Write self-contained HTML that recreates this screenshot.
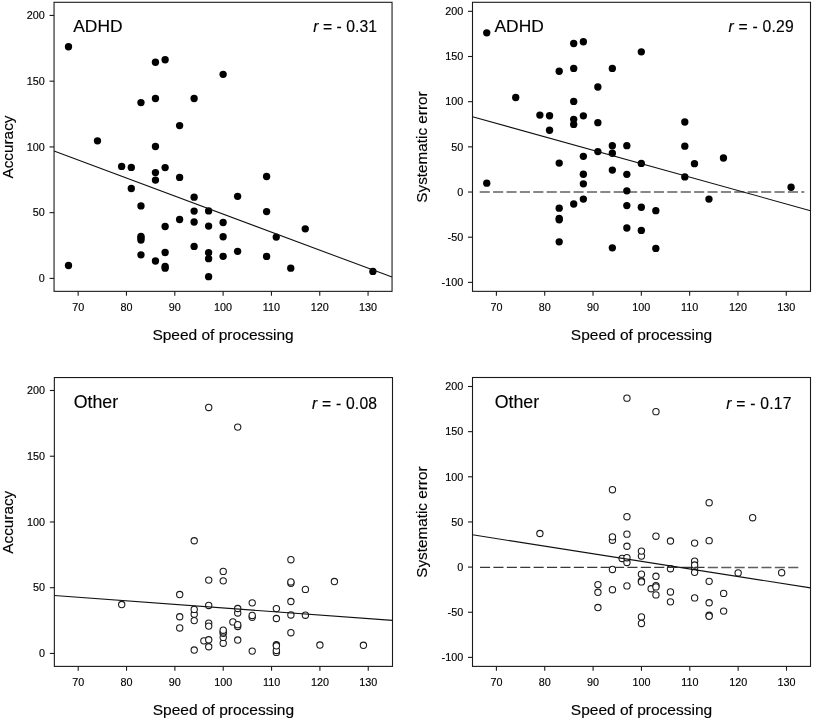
<!DOCTYPE html>
<html lang="en">
<head>
<meta charset="utf-8">
<title>Speed of processing scatter plots</title>
<style>
html,body{margin:0;padding:0;background:#fff;}
svg{display:block;}
text{font-family:"Liberation Sans", Arial, Helvetica, sans-serif;fill:#000;stroke:#000;stroke-width:0.15px;}
.tk{font-size:10.8px;}
.ax{font-size:15.5px;}
.ay{font-size:15.3px;}
.ti{font-size:17.4px;}
.to{font-size:17.75px;}
.rt{font-size:15.7px;}
</style>
</head>
<body>
<svg width="813" height="720" viewBox="0 0 813 720">
<rect x="0" y="0" width="813" height="720" fill="#fff"/>
<rect x="54.05" y="2.30" width="338.00" height="289.05" fill="none" stroke="#1a1a1a" stroke-width="1.1"/>
<line x1="78.15" y1="291.35" x2="78.15" y2="295.65" stroke="#1a1a1a" stroke-width="1.1"/>
<text x="78.15" y="310.65" text-anchor="middle" class="tk">70</text>
<line x1="126.47" y1="291.35" x2="126.47" y2="295.65" stroke="#1a1a1a" stroke-width="1.1"/>
<text x="126.47" y="310.65" text-anchor="middle" class="tk">80</text>
<line x1="174.79" y1="291.35" x2="174.79" y2="295.65" stroke="#1a1a1a" stroke-width="1.1"/>
<text x="174.79" y="310.65" text-anchor="middle" class="tk">90</text>
<line x1="223.11" y1="291.35" x2="223.11" y2="295.65" stroke="#1a1a1a" stroke-width="1.1"/>
<text x="223.11" y="310.65" text-anchor="middle" class="tk">100</text>
<line x1="271.43" y1="291.35" x2="271.43" y2="295.65" stroke="#1a1a1a" stroke-width="1.1"/>
<text x="271.43" y="310.65" text-anchor="middle" class="tk">110</text>
<line x1="319.75" y1="291.35" x2="319.75" y2="295.65" stroke="#1a1a1a" stroke-width="1.1"/>
<text x="319.75" y="310.65" text-anchor="middle" class="tk">120</text>
<line x1="368.07" y1="291.35" x2="368.07" y2="295.65" stroke="#1a1a1a" stroke-width="1.1"/>
<text x="368.07" y="310.65" text-anchor="middle" class="tk">130</text>
<line x1="49.55" y1="278.40" x2="54.05" y2="278.40" stroke="#1a1a1a" stroke-width="1.1"/>
<text x="44.75" y="282.10" text-anchor="end" class="tk">0</text>
<line x1="49.55" y1="212.66" x2="54.05" y2="212.66" stroke="#1a1a1a" stroke-width="1.1"/>
<text x="44.75" y="216.36" text-anchor="end" class="tk">50</text>
<line x1="49.55" y1="146.92" x2="54.05" y2="146.92" stroke="#1a1a1a" stroke-width="1.1"/>
<text x="44.75" y="150.62" text-anchor="end" class="tk">100</text>
<line x1="49.55" y1="81.18" x2="54.05" y2="81.18" stroke="#1a1a1a" stroke-width="1.1"/>
<text x="44.75" y="84.88" text-anchor="end" class="tk">150</text>
<line x1="49.55" y1="15.44" x2="54.05" y2="15.44" stroke="#1a1a1a" stroke-width="1.1"/>
<text x="44.75" y="19.14" text-anchor="end" class="tk">200</text>
<text x="223.05" y="340.05" text-anchor="middle" class="ax">Speed of processing</text>
<text transform="translate(12.90,147.03) rotate(-90)" text-anchor="middle" class="ay">Accuracy</text>
<text x="73.25" y="32.10" class="ti">ADHD</text>
<text x="313.30" y="32.10" class="rt" letter-spacing="0.05"><tspan font-style="italic">r</tspan> = - 0.31</text>
<circle cx="68.49" cy="46.73" r="3.67" fill="#000"/>
<circle cx="68.49" cy="265.51" r="3.67" fill="#000"/>
<circle cx="97.48" cy="140.87" r="3.67" fill="#000"/>
<circle cx="121.64" cy="166.38" r="3.67" fill="#000"/>
<circle cx="131.30" cy="167.43" r="3.67" fill="#000"/>
<circle cx="131.30" cy="188.47" r="3.67" fill="#000"/>
<circle cx="140.97" cy="102.61" r="3.67" fill="#000"/>
<circle cx="140.97" cy="236.33" r="3.67" fill="#000"/>
<circle cx="140.97" cy="254.87" r="3.67" fill="#000"/>
<circle cx="140.97" cy="240.01" r="3.67" fill="#000"/>
<circle cx="140.97" cy="237.90" r="3.67" fill="#000"/>
<circle cx="140.97" cy="205.95" r="3.67" fill="#000"/>
<circle cx="155.46" cy="62.25" r="3.67" fill="#000"/>
<circle cx="155.46" cy="98.54" r="3.67" fill="#000"/>
<circle cx="155.46" cy="146.53" r="3.67" fill="#000"/>
<circle cx="155.46" cy="172.56" r="3.67" fill="#000"/>
<circle cx="155.46" cy="180.05" r="3.67" fill="#000"/>
<circle cx="155.46" cy="261.04" r="3.67" fill="#000"/>
<circle cx="165.13" cy="59.75" r="3.67" fill="#000"/>
<circle cx="165.13" cy="167.56" r="3.67" fill="#000"/>
<circle cx="165.13" cy="226.47" r="3.67" fill="#000"/>
<circle cx="165.13" cy="252.50" r="3.67" fill="#000"/>
<circle cx="165.13" cy="266.44" r="3.67" fill="#000"/>
<circle cx="165.13" cy="268.14" r="3.67" fill="#000"/>
<circle cx="179.62" cy="125.62" r="3.67" fill="#000"/>
<circle cx="179.62" cy="177.42" r="3.67" fill="#000"/>
<circle cx="179.62" cy="219.50" r="3.67" fill="#000"/>
<circle cx="194.12" cy="98.54" r="3.67" fill="#000"/>
<circle cx="194.12" cy="211.08" r="3.67" fill="#000"/>
<circle cx="194.12" cy="222.00" r="3.67" fill="#000"/>
<circle cx="194.12" cy="246.45" r="3.67" fill="#000"/>
<circle cx="194.12" cy="197.15" r="3.67" fill="#000"/>
<circle cx="208.61" cy="210.95" r="3.67" fill="#000"/>
<circle cx="208.61" cy="252.63" r="3.67" fill="#000"/>
<circle cx="208.61" cy="276.69" r="3.67" fill="#000"/>
<circle cx="208.61" cy="258.68" r="3.67" fill="#000"/>
<circle cx="208.61" cy="226.07" r="3.67" fill="#000"/>
<circle cx="223.11" cy="74.34" r="3.67" fill="#000"/>
<circle cx="223.11" cy="236.72" r="3.67" fill="#000"/>
<circle cx="223.11" cy="256.31" r="3.67" fill="#000"/>
<circle cx="223.11" cy="222.52" r="3.67" fill="#000"/>
<circle cx="237.61" cy="251.32" r="3.67" fill="#000"/>
<circle cx="237.61" cy="196.36" r="3.67" fill="#000"/>
<circle cx="266.60" cy="176.50" r="3.67" fill="#000"/>
<circle cx="266.60" cy="211.61" r="3.67" fill="#000"/>
<circle cx="266.60" cy="256.44" r="3.67" fill="#000"/>
<circle cx="276.26" cy="237.12" r="3.67" fill="#000"/>
<circle cx="290.76" cy="268.14" r="3.67" fill="#000"/>
<circle cx="305.25" cy="228.83" r="3.67" fill="#000"/>
<circle cx="372.90" cy="271.43" r="3.67" fill="#000"/>
<line x1="54.05" y1="151.10" x2="392.05" y2="277.10" stroke="#111" stroke-width="1.08"/>
<rect x="472.50" y="2.30" width="338.00" height="289.05" fill="none" stroke="#1a1a1a" stroke-width="1.1"/>
<line x1="496.40" y1="291.35" x2="496.40" y2="295.65" stroke="#1a1a1a" stroke-width="1.1"/>
<text x="496.40" y="310.65" text-anchor="middle" class="tk">70</text>
<line x1="544.71" y1="291.35" x2="544.71" y2="295.65" stroke="#1a1a1a" stroke-width="1.1"/>
<text x="544.71" y="310.65" text-anchor="middle" class="tk">80</text>
<line x1="593.02" y1="291.35" x2="593.02" y2="295.65" stroke="#1a1a1a" stroke-width="1.1"/>
<text x="593.02" y="310.65" text-anchor="middle" class="tk">90</text>
<line x1="641.33" y1="291.35" x2="641.33" y2="295.65" stroke="#1a1a1a" stroke-width="1.1"/>
<text x="641.33" y="310.65" text-anchor="middle" class="tk">100</text>
<line x1="689.64" y1="291.35" x2="689.64" y2="295.65" stroke="#1a1a1a" stroke-width="1.1"/>
<text x="689.64" y="310.65" text-anchor="middle" class="tk">110</text>
<line x1="737.95" y1="291.35" x2="737.95" y2="295.65" stroke="#1a1a1a" stroke-width="1.1"/>
<text x="737.95" y="310.65" text-anchor="middle" class="tk">120</text>
<line x1="786.26" y1="291.35" x2="786.26" y2="295.65" stroke="#1a1a1a" stroke-width="1.1"/>
<text x="786.26" y="310.65" text-anchor="middle" class="tk">130</text>
<line x1="468.00" y1="282.38" x2="472.50" y2="282.38" stroke="#1a1a1a" stroke-width="1.1"/>
<text x="463.20" y="286.08" text-anchor="end" class="tk">-100</text>
<line x1="468.00" y1="237.20" x2="472.50" y2="237.20" stroke="#1a1a1a" stroke-width="1.1"/>
<text x="463.20" y="240.90" text-anchor="end" class="tk">-50</text>
<line x1="468.00" y1="192.03" x2="472.50" y2="192.03" stroke="#1a1a1a" stroke-width="1.1"/>
<text x="463.20" y="195.73" text-anchor="end" class="tk">0</text>
<line x1="468.00" y1="146.86" x2="472.50" y2="146.86" stroke="#1a1a1a" stroke-width="1.1"/>
<text x="463.20" y="150.56" text-anchor="end" class="tk">50</text>
<line x1="468.00" y1="101.68" x2="472.50" y2="101.68" stroke="#1a1a1a" stroke-width="1.1"/>
<text x="463.20" y="105.38" text-anchor="end" class="tk">100</text>
<line x1="468.00" y1="56.50" x2="472.50" y2="56.50" stroke="#1a1a1a" stroke-width="1.1"/>
<text x="463.20" y="60.20" text-anchor="end" class="tk">150</text>
<line x1="468.00" y1="11.33" x2="472.50" y2="11.33" stroke="#1a1a1a" stroke-width="1.1"/>
<text x="463.20" y="15.03" text-anchor="end" class="tk">200</text>
<text x="641.50" y="340.05" text-anchor="middle" class="ax">Speed of processing</text>
<text transform="translate(427.00,147.03) rotate(-90)" text-anchor="middle" class="ay">Systematic error</text>
<text x="494.50" y="32.10" class="ti">ADHD</text>
<text x="728.60" y="32.10" class="rt" letter-spacing="0.2"><tspan font-style="italic">r</tspan> = - 0.29</text>
<line x1="479.70" y1="192.00" x2="804.30" y2="192.00" stroke="#878787" stroke-width="1.9" stroke-dasharray="10.1 3.3" stroke-dashoffset="0.00"/>
<circle cx="486.74" cy="32.83" r="3.67" fill="#000"/>
<circle cx="486.74" cy="183.18" r="3.67" fill="#000"/>
<circle cx="515.72" cy="97.52" r="3.67" fill="#000"/>
<circle cx="539.88" cy="115.05" r="3.67" fill="#000"/>
<circle cx="549.54" cy="115.77" r="3.67" fill="#000"/>
<circle cx="549.54" cy="130.23" r="3.67" fill="#000"/>
<circle cx="559.20" cy="71.23" r="3.67" fill="#000"/>
<circle cx="559.20" cy="163.12" r="3.67" fill="#000"/>
<circle cx="559.20" cy="208.20" r="3.67" fill="#000"/>
<circle cx="559.20" cy="218.41" r="3.67" fill="#000"/>
<circle cx="559.20" cy="219.86" r="3.67" fill="#000"/>
<circle cx="559.20" cy="241.81" r="3.67" fill="#000"/>
<circle cx="573.70" cy="43.49" r="3.67" fill="#000"/>
<circle cx="573.70" cy="68.43" r="3.67" fill="#000"/>
<circle cx="573.70" cy="101.41" r="3.67" fill="#000"/>
<circle cx="573.70" cy="119.30" r="3.67" fill="#000"/>
<circle cx="573.70" cy="124.45" r="3.67" fill="#000"/>
<circle cx="573.70" cy="203.96" r="3.67" fill="#000"/>
<circle cx="583.36" cy="41.78" r="3.67" fill="#000"/>
<circle cx="583.36" cy="115.86" r="3.67" fill="#000"/>
<circle cx="583.36" cy="156.34" r="3.67" fill="#000"/>
<circle cx="583.36" cy="174.23" r="3.67" fill="#000"/>
<circle cx="583.36" cy="183.81" r="3.67" fill="#000"/>
<circle cx="583.36" cy="199.08" r="3.67" fill="#000"/>
<circle cx="597.85" cy="87.04" r="3.67" fill="#000"/>
<circle cx="597.85" cy="122.64" r="3.67" fill="#000"/>
<circle cx="597.85" cy="151.55" r="3.67" fill="#000"/>
<circle cx="612.34" cy="68.43" r="3.67" fill="#000"/>
<circle cx="612.34" cy="145.77" r="3.67" fill="#000"/>
<circle cx="612.34" cy="153.27" r="3.67" fill="#000"/>
<circle cx="612.34" cy="170.07" r="3.67" fill="#000"/>
<circle cx="612.34" cy="247.87" r="3.67" fill="#000"/>
<circle cx="626.84" cy="145.68" r="3.67" fill="#000"/>
<circle cx="626.84" cy="174.32" r="3.67" fill="#000"/>
<circle cx="626.84" cy="190.86" r="3.67" fill="#000"/>
<circle cx="626.84" cy="205.58" r="3.67" fill="#000"/>
<circle cx="626.84" cy="227.99" r="3.67" fill="#000"/>
<circle cx="641.33" cy="51.81" r="3.67" fill="#000"/>
<circle cx="641.33" cy="163.39" r="3.67" fill="#000"/>
<circle cx="641.33" cy="207.21" r="3.67" fill="#000"/>
<circle cx="641.33" cy="230.43" r="3.67" fill="#000"/>
<circle cx="655.82" cy="210.64" r="3.67" fill="#000"/>
<circle cx="655.82" cy="248.41" r="3.67" fill="#000"/>
<circle cx="684.81" cy="122.01" r="3.67" fill="#000"/>
<circle cx="684.81" cy="146.13" r="3.67" fill="#000"/>
<circle cx="684.81" cy="176.94" r="3.67" fill="#000"/>
<circle cx="694.47" cy="163.66" r="3.67" fill="#000"/>
<circle cx="708.96" cy="199.08" r="3.67" fill="#000"/>
<circle cx="723.46" cy="157.97" r="3.67" fill="#000"/>
<circle cx="791.09" cy="187.24" r="3.67" fill="#000"/>
<line x1="472.50" y1="116.70" x2="810.50" y2="210.70" stroke="#111" stroke-width="1.08"/>
<rect x="54.35" y="377.55" width="338.15" height="288.85" fill="none" stroke="#1a1a1a" stroke-width="1.1"/>
<line x1="78.20" y1="666.40" x2="78.20" y2="670.70" stroke="#1a1a1a" stroke-width="1.1"/>
<text x="78.20" y="685.70" text-anchor="middle" class="tk">70</text>
<line x1="126.54" y1="666.40" x2="126.54" y2="670.70" stroke="#1a1a1a" stroke-width="1.1"/>
<text x="126.54" y="685.70" text-anchor="middle" class="tk">80</text>
<line x1="174.88" y1="666.40" x2="174.88" y2="670.70" stroke="#1a1a1a" stroke-width="1.1"/>
<text x="174.88" y="685.70" text-anchor="middle" class="tk">90</text>
<line x1="223.22" y1="666.40" x2="223.22" y2="670.70" stroke="#1a1a1a" stroke-width="1.1"/>
<text x="223.22" y="685.70" text-anchor="middle" class="tk">100</text>
<line x1="271.56" y1="666.40" x2="271.56" y2="670.70" stroke="#1a1a1a" stroke-width="1.1"/>
<text x="271.56" y="685.70" text-anchor="middle" class="tk">110</text>
<line x1="319.90" y1="666.40" x2="319.90" y2="670.70" stroke="#1a1a1a" stroke-width="1.1"/>
<text x="319.90" y="685.70" text-anchor="middle" class="tk">120</text>
<line x1="368.24" y1="666.40" x2="368.24" y2="670.70" stroke="#1a1a1a" stroke-width="1.1"/>
<text x="368.24" y="685.70" text-anchor="middle" class="tk">130</text>
<line x1="49.85" y1="653.45" x2="54.35" y2="653.45" stroke="#1a1a1a" stroke-width="1.1"/>
<text x="45.05" y="657.15" text-anchor="end" class="tk">0</text>
<line x1="49.85" y1="587.71" x2="54.35" y2="587.71" stroke="#1a1a1a" stroke-width="1.1"/>
<text x="45.05" y="591.41" text-anchor="end" class="tk">50</text>
<line x1="49.85" y1="521.97" x2="54.35" y2="521.97" stroke="#1a1a1a" stroke-width="1.1"/>
<text x="45.05" y="525.67" text-anchor="end" class="tk">100</text>
<line x1="49.85" y1="456.23" x2="54.35" y2="456.23" stroke="#1a1a1a" stroke-width="1.1"/>
<text x="45.05" y="459.93" text-anchor="end" class="tk">150</text>
<line x1="49.85" y1="390.49" x2="54.35" y2="390.49" stroke="#1a1a1a" stroke-width="1.1"/>
<text x="45.05" y="394.19" text-anchor="end" class="tk">200</text>
<text x="223.43" y="715.10" text-anchor="middle" class="ax">Speed of processing</text>
<text transform="translate(12.90,522.18) rotate(-90)" text-anchor="middle" class="ay">Accuracy</text>
<text x="73.75" y="407.50" class="ti to">Other</text>
<text x="312.00" y="408.60" class="rt" letter-spacing="0.2"><tspan font-style="italic">r</tspan> = - 0.08</text>
<circle cx="121.71" cy="604.54" r="3.15" fill="#fff" stroke="#1a1a1a" stroke-width="1.1"/>
<circle cx="179.71" cy="627.94" r="3.15" fill="#fff" stroke="#1a1a1a" stroke-width="1.1"/>
<circle cx="179.71" cy="616.77" r="3.15" fill="#fff" stroke="#1a1a1a" stroke-width="1.1"/>
<circle cx="179.71" cy="594.55" r="3.15" fill="#fff" stroke="#1a1a1a" stroke-width="1.1"/>
<circle cx="194.22" cy="650.03" r="3.15" fill="#fff" stroke="#1a1a1a" stroke-width="1.1"/>
<circle cx="194.22" cy="614.27" r="3.15" fill="#fff" stroke="#1a1a1a" stroke-width="1.1"/>
<circle cx="194.22" cy="620.58" r="3.15" fill="#fff" stroke="#1a1a1a" stroke-width="1.1"/>
<circle cx="194.22" cy="609.40" r="3.15" fill="#fff" stroke="#1a1a1a" stroke-width="1.1"/>
<circle cx="194.22" cy="540.77" r="3.15" fill="#fff" stroke="#1a1a1a" stroke-width="1.1"/>
<circle cx="203.88" cy="640.83" r="3.15" fill="#fff" stroke="#1a1a1a" stroke-width="1.1"/>
<circle cx="208.72" cy="646.74" r="3.15" fill="#fff" stroke="#1a1a1a" stroke-width="1.1"/>
<circle cx="208.72" cy="639.78" r="3.15" fill="#fff" stroke="#1a1a1a" stroke-width="1.1"/>
<circle cx="208.72" cy="623.08" r="3.15" fill="#fff" stroke="#1a1a1a" stroke-width="1.1"/>
<circle cx="208.72" cy="626.10" r="3.15" fill="#fff" stroke="#1a1a1a" stroke-width="1.1"/>
<circle cx="208.72" cy="605.46" r="3.15" fill="#fff" stroke="#1a1a1a" stroke-width="1.1"/>
<circle cx="208.72" cy="580.08" r="3.15" fill="#fff" stroke="#1a1a1a" stroke-width="1.1"/>
<circle cx="208.72" cy="407.45" r="3.15" fill="#fff" stroke="#1a1a1a" stroke-width="1.1"/>
<circle cx="223.22" cy="643.19" r="3.15" fill="#fff" stroke="#1a1a1a" stroke-width="1.1"/>
<circle cx="223.22" cy="637.41" r="3.15" fill="#fff" stroke="#1a1a1a" stroke-width="1.1"/>
<circle cx="223.22" cy="633.20" r="3.15" fill="#fff" stroke="#1a1a1a" stroke-width="1.1"/>
<circle cx="223.22" cy="631.89" r="3.15" fill="#fff" stroke="#1a1a1a" stroke-width="1.1"/>
<circle cx="223.22" cy="630.18" r="3.15" fill="#fff" stroke="#1a1a1a" stroke-width="1.1"/>
<circle cx="223.22" cy="580.87" r="3.15" fill="#fff" stroke="#1a1a1a" stroke-width="1.1"/>
<circle cx="223.22" cy="571.41" r="3.15" fill="#fff" stroke="#1a1a1a" stroke-width="1.1"/>
<circle cx="232.89" cy="621.89" r="3.15" fill="#fff" stroke="#1a1a1a" stroke-width="1.1"/>
<circle cx="237.72" cy="640.04" r="3.15" fill="#fff" stroke="#1a1a1a" stroke-width="1.1"/>
<circle cx="237.72" cy="626.50" r="3.15" fill="#fff" stroke="#1a1a1a" stroke-width="1.1"/>
<circle cx="237.72" cy="624.66" r="3.15" fill="#fff" stroke="#1a1a1a" stroke-width="1.1"/>
<circle cx="237.72" cy="612.95" r="3.15" fill="#fff" stroke="#1a1a1a" stroke-width="1.1"/>
<circle cx="237.72" cy="608.48" r="3.15" fill="#fff" stroke="#1a1a1a" stroke-width="1.1"/>
<circle cx="237.72" cy="427.11" r="3.15" fill="#fff" stroke="#1a1a1a" stroke-width="1.1"/>
<circle cx="252.22" cy="651.08" r="3.15" fill="#fff" stroke="#1a1a1a" stroke-width="1.1"/>
<circle cx="252.22" cy="617.29" r="3.15" fill="#fff" stroke="#1a1a1a" stroke-width="1.1"/>
<circle cx="252.22" cy="615.45" r="3.15" fill="#fff" stroke="#1a1a1a" stroke-width="1.1"/>
<circle cx="252.22" cy="602.83" r="3.15" fill="#fff" stroke="#1a1a1a" stroke-width="1.1"/>
<circle cx="276.39" cy="618.48" r="3.15" fill="#fff" stroke="#1a1a1a" stroke-width="1.1"/>
<circle cx="276.39" cy="608.62" r="3.15" fill="#fff" stroke="#1a1a1a" stroke-width="1.1"/>
<circle cx="276.39" cy="652.40" r="3.15" fill="#fff" stroke="#1a1a1a" stroke-width="1.1"/>
<circle cx="276.39" cy="644.77" r="3.15" fill="#fff" stroke="#1a1a1a" stroke-width="1.1"/>
<circle cx="276.39" cy="650.43" r="3.15" fill="#fff" stroke="#1a1a1a" stroke-width="1.1"/>
<circle cx="276.39" cy="645.82" r="3.15" fill="#fff" stroke="#1a1a1a" stroke-width="1.1"/>
<circle cx="290.90" cy="632.68" r="3.15" fill="#fff" stroke="#1a1a1a" stroke-width="1.1"/>
<circle cx="290.90" cy="614.93" r="3.15" fill="#fff" stroke="#1a1a1a" stroke-width="1.1"/>
<circle cx="290.90" cy="601.52" r="3.15" fill="#fff" stroke="#1a1a1a" stroke-width="1.1"/>
<circle cx="290.90" cy="583.24" r="3.15" fill="#fff" stroke="#1a1a1a" stroke-width="1.1"/>
<circle cx="290.90" cy="581.92" r="3.15" fill="#fff" stroke="#1a1a1a" stroke-width="1.1"/>
<circle cx="290.90" cy="559.70" r="3.15" fill="#fff" stroke="#1a1a1a" stroke-width="1.1"/>
<circle cx="305.40" cy="615.19" r="3.15" fill="#fff" stroke="#1a1a1a" stroke-width="1.1"/>
<circle cx="305.40" cy="589.42" r="3.15" fill="#fff" stroke="#1a1a1a" stroke-width="1.1"/>
<circle cx="319.90" cy="645.04" r="3.15" fill="#fff" stroke="#1a1a1a" stroke-width="1.1"/>
<circle cx="334.40" cy="581.53" r="3.15" fill="#fff" stroke="#1a1a1a" stroke-width="1.1"/>
<circle cx="363.41" cy="645.30" r="3.15" fill="#fff" stroke="#1a1a1a" stroke-width="1.1"/>
<line x1="54.35" y1="595.50" x2="392.50" y2="620.40" stroke="#111" stroke-width="1.08"/>
<rect x="472.50" y="377.50" width="338.00" height="288.90" fill="none" stroke="#1a1a1a" stroke-width="1.1"/>
<line x1="496.40" y1="666.40" x2="496.40" y2="670.70" stroke="#1a1a1a" stroke-width="1.1"/>
<text x="496.40" y="685.70" text-anchor="middle" class="tk">70</text>
<line x1="544.75" y1="666.40" x2="544.75" y2="670.70" stroke="#1a1a1a" stroke-width="1.1"/>
<text x="544.75" y="685.70" text-anchor="middle" class="tk">80</text>
<line x1="593.10" y1="666.40" x2="593.10" y2="670.70" stroke="#1a1a1a" stroke-width="1.1"/>
<text x="593.10" y="685.70" text-anchor="middle" class="tk">90</text>
<line x1="641.45" y1="666.40" x2="641.45" y2="670.70" stroke="#1a1a1a" stroke-width="1.1"/>
<text x="641.45" y="685.70" text-anchor="middle" class="tk">100</text>
<line x1="689.80" y1="666.40" x2="689.80" y2="670.70" stroke="#1a1a1a" stroke-width="1.1"/>
<text x="689.80" y="685.70" text-anchor="middle" class="tk">110</text>
<line x1="738.15" y1="666.40" x2="738.15" y2="670.70" stroke="#1a1a1a" stroke-width="1.1"/>
<text x="738.15" y="685.70" text-anchor="middle" class="tk">120</text>
<line x1="786.50" y1="666.40" x2="786.50" y2="670.70" stroke="#1a1a1a" stroke-width="1.1"/>
<text x="786.50" y="685.70" text-anchor="middle" class="tk">130</text>
<line x1="468.00" y1="657.40" x2="472.50" y2="657.40" stroke="#1a1a1a" stroke-width="1.1"/>
<text x="463.20" y="661.10" text-anchor="end" class="tk">-100</text>
<line x1="468.00" y1="612.25" x2="472.50" y2="612.25" stroke="#1a1a1a" stroke-width="1.1"/>
<text x="463.20" y="615.95" text-anchor="end" class="tk">-50</text>
<line x1="468.00" y1="567.10" x2="472.50" y2="567.10" stroke="#1a1a1a" stroke-width="1.1"/>
<text x="463.20" y="570.80" text-anchor="end" class="tk">0</text>
<line x1="468.00" y1="521.95" x2="472.50" y2="521.95" stroke="#1a1a1a" stroke-width="1.1"/>
<text x="463.20" y="525.65" text-anchor="end" class="tk">50</text>
<line x1="468.00" y1="476.80" x2="472.50" y2="476.80" stroke="#1a1a1a" stroke-width="1.1"/>
<text x="463.20" y="480.50" text-anchor="end" class="tk">100</text>
<line x1="468.00" y1="431.65" x2="472.50" y2="431.65" stroke="#1a1a1a" stroke-width="1.1"/>
<text x="463.20" y="435.35" text-anchor="end" class="tk">150</text>
<line x1="468.00" y1="386.50" x2="472.50" y2="386.50" stroke="#1a1a1a" stroke-width="1.1"/>
<text x="463.20" y="390.20" text-anchor="end" class="tk">200</text>
<text x="641.50" y="715.10" text-anchor="middle" class="ax">Speed of processing</text>
<text transform="translate(427.00,522.15) rotate(-90)" text-anchor="middle" class="ay">Systematic error</text>
<text x="494.70" y="407.50" class="ti to">Other</text>
<text x="726.30" y="408.60" class="rt" letter-spacing="0.22"><tspan font-style="italic">r</tspan> = - 0.17</text>
<circle cx="539.91" cy="533.51" r="3.15" fill="#fff" stroke="#1a1a1a" stroke-width="1.1"/>
<circle cx="597.93" cy="584.62" r="3.15" fill="#fff" stroke="#1a1a1a" stroke-width="1.1"/>
<circle cx="597.93" cy="592.29" r="3.15" fill="#fff" stroke="#1a1a1a" stroke-width="1.1"/>
<circle cx="597.93" cy="607.55" r="3.15" fill="#fff" stroke="#1a1a1a" stroke-width="1.1"/>
<circle cx="612.44" cy="569.45" r="3.15" fill="#fff" stroke="#1a1a1a" stroke-width="1.1"/>
<circle cx="612.44" cy="540.19" r="3.15" fill="#fff" stroke="#1a1a1a" stroke-width="1.1"/>
<circle cx="612.44" cy="589.68" r="3.15" fill="#fff" stroke="#1a1a1a" stroke-width="1.1"/>
<circle cx="612.44" cy="536.85" r="3.15" fill="#fff" stroke="#1a1a1a" stroke-width="1.1"/>
<circle cx="612.44" cy="489.71" r="3.15" fill="#fff" stroke="#1a1a1a" stroke-width="1.1"/>
<circle cx="622.11" cy="558.43" r="3.15" fill="#fff" stroke="#1a1a1a" stroke-width="1.1"/>
<circle cx="626.94" cy="562.49" r="3.15" fill="#fff" stroke="#1a1a1a" stroke-width="1.1"/>
<circle cx="626.94" cy="557.71" r="3.15" fill="#fff" stroke="#1a1a1a" stroke-width="1.1"/>
<circle cx="626.94" cy="546.24" r="3.15" fill="#fff" stroke="#1a1a1a" stroke-width="1.1"/>
<circle cx="626.94" cy="585.88" r="3.15" fill="#fff" stroke="#1a1a1a" stroke-width="1.1"/>
<circle cx="626.94" cy="534.14" r="3.15" fill="#fff" stroke="#1a1a1a" stroke-width="1.1"/>
<circle cx="626.94" cy="516.71" r="3.15" fill="#fff" stroke="#1a1a1a" stroke-width="1.1"/>
<circle cx="626.94" cy="398.15" r="3.15" fill="#fff" stroke="#1a1a1a" stroke-width="1.1"/>
<circle cx="641.45" cy="574.14" r="3.15" fill="#fff" stroke="#1a1a1a" stroke-width="1.1"/>
<circle cx="641.45" cy="556.08" r="3.15" fill="#fff" stroke="#1a1a1a" stroke-width="1.1"/>
<circle cx="641.45" cy="581.01" r="3.15" fill="#fff" stroke="#1a1a1a" stroke-width="1.1"/>
<circle cx="641.45" cy="581.91" r="3.15" fill="#fff" stroke="#1a1a1a" stroke-width="1.1"/>
<circle cx="641.45" cy="551.12" r="3.15" fill="#fff" stroke="#1a1a1a" stroke-width="1.1"/>
<circle cx="641.45" cy="616.95" r="3.15" fill="#fff" stroke="#1a1a1a" stroke-width="1.1"/>
<circle cx="641.45" cy="623.45" r="3.15" fill="#fff" stroke="#1a1a1a" stroke-width="1.1"/>
<circle cx="651.12" cy="588.77" r="3.15" fill="#fff" stroke="#1a1a1a" stroke-width="1.1"/>
<circle cx="655.95" cy="576.31" r="3.15" fill="#fff" stroke="#1a1a1a" stroke-width="1.1"/>
<circle cx="655.95" cy="585.61" r="3.15" fill="#fff" stroke="#1a1a1a" stroke-width="1.1"/>
<circle cx="655.95" cy="586.88" r="3.15" fill="#fff" stroke="#1a1a1a" stroke-width="1.1"/>
<circle cx="655.95" cy="594.91" r="3.15" fill="#fff" stroke="#1a1a1a" stroke-width="1.1"/>
<circle cx="655.95" cy="536.22" r="3.15" fill="#fff" stroke="#1a1a1a" stroke-width="1.1"/>
<circle cx="655.95" cy="411.65" r="3.15" fill="#fff" stroke="#1a1a1a" stroke-width="1.1"/>
<circle cx="670.46" cy="568.73" r="3.15" fill="#fff" stroke="#1a1a1a" stroke-width="1.1"/>
<circle cx="670.46" cy="591.93" r="3.15" fill="#fff" stroke="#1a1a1a" stroke-width="1.1"/>
<circle cx="670.46" cy="541.00" r="3.15" fill="#fff" stroke="#1a1a1a" stroke-width="1.1"/>
<circle cx="670.46" cy="601.87" r="3.15" fill="#fff" stroke="#1a1a1a" stroke-width="1.1"/>
<circle cx="694.63" cy="543.08" r="3.15" fill="#fff" stroke="#1a1a1a" stroke-width="1.1"/>
<circle cx="694.63" cy="597.89" r="3.15" fill="#fff" stroke="#1a1a1a" stroke-width="1.1"/>
<circle cx="694.63" cy="567.82" r="3.15" fill="#fff" stroke="#1a1a1a" stroke-width="1.1"/>
<circle cx="694.63" cy="561.14" r="3.15" fill="#fff" stroke="#1a1a1a" stroke-width="1.1"/>
<circle cx="694.63" cy="565.02" r="3.15" fill="#fff" stroke="#1a1a1a" stroke-width="1.1"/>
<circle cx="694.63" cy="572.34" r="3.15" fill="#fff" stroke="#1a1a1a" stroke-width="1.1"/>
<circle cx="709.14" cy="581.37" r="3.15" fill="#fff" stroke="#1a1a1a" stroke-width="1.1"/>
<circle cx="709.14" cy="540.64" r="3.15" fill="#fff" stroke="#1a1a1a" stroke-width="1.1"/>
<circle cx="709.14" cy="602.77" r="3.15" fill="#fff" stroke="#1a1a1a" stroke-width="1.1"/>
<circle cx="709.14" cy="615.32" r="3.15" fill="#fff" stroke="#1a1a1a" stroke-width="1.1"/>
<circle cx="709.14" cy="616.22" r="3.15" fill="#fff" stroke="#1a1a1a" stroke-width="1.1"/>
<circle cx="709.14" cy="502.72" r="3.15" fill="#fff" stroke="#1a1a1a" stroke-width="1.1"/>
<circle cx="723.64" cy="593.38" r="3.15" fill="#fff" stroke="#1a1a1a" stroke-width="1.1"/>
<circle cx="723.64" cy="611.08" r="3.15" fill="#fff" stroke="#1a1a1a" stroke-width="1.1"/>
<circle cx="738.15" cy="572.88" r="3.15" fill="#fff" stroke="#1a1a1a" stroke-width="1.1"/>
<circle cx="752.65" cy="517.71" r="3.15" fill="#fff" stroke="#1a1a1a" stroke-width="1.1"/>
<circle cx="781.66" cy="572.70" r="3.15" fill="#fff" stroke="#1a1a1a" stroke-width="1.1"/>
<line x1="480.00" y1="567.40" x2="706.00" y2="567.40" stroke="#383838" stroke-width="1.1" stroke-dasharray="10.1 3.3" stroke-dashoffset="0.00"/>
<line x1="706.00" y1="567.50" x2="798.40" y2="567.50" stroke="#5e5e5e" stroke-width="1.4" stroke-dasharray="10.1 3.3" stroke-dashoffset="11.60"/>
<line x1="472.50" y1="534.80" x2="810.50" y2="587.90" stroke="#111" stroke-width="1.08"/>
</svg>
</body>
</html>
